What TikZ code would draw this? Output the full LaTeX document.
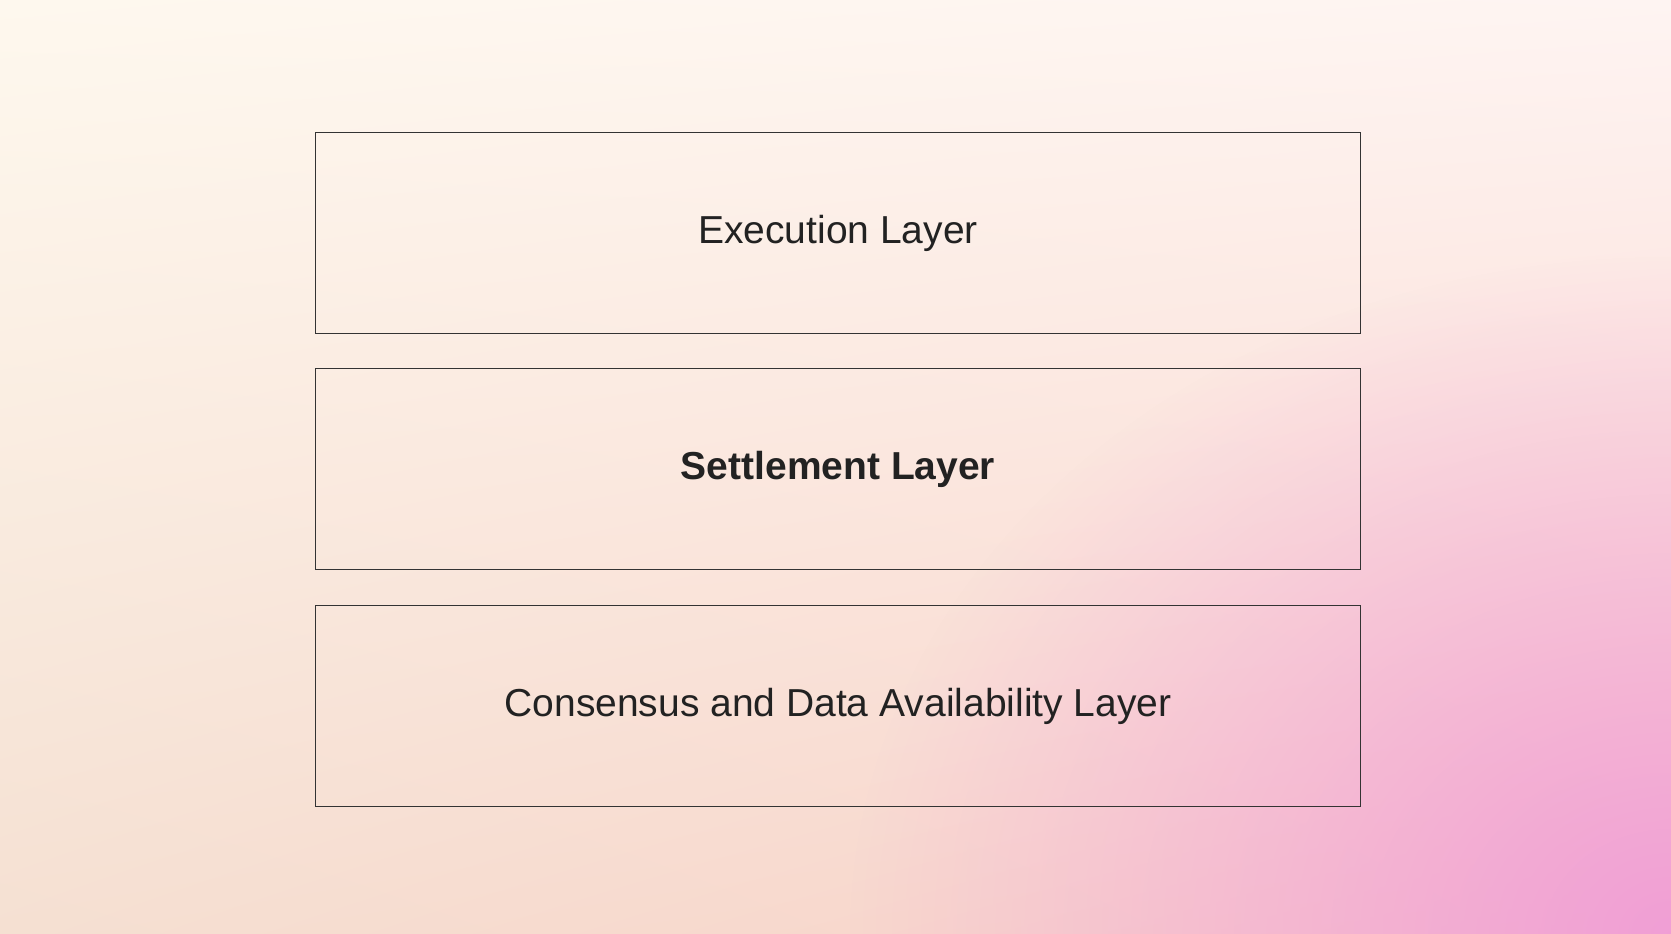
\documentclass[tikz,border=0pt]{standalone}
\usepackage{fontspec}
\setmainfont{Liberation Sans}
\usetikzlibrary{fadings,shadings}
\tikzfading[name=pinkfade, inner color=transparent!0, outer color=transparent!100]
\definecolor{ulc}{HTML}{FEF8EE}
\definecolor{urc}{HTML}{FEF4F2}
\definecolor{llc}{HTML}{F5E0D2}
\definecolor{lrc}{HTML}{FAD0C8}
\definecolor{pinkc}{HTML}{F09CD6}
\definecolor{edgec}{HTML}{333333}
\definecolor{textc}{HTML}{222222}
\tikzset{
  layerbox/.style={draw=edgec, line width=1.2pt, minimum width=1045pt, minimum height=201pt, inner sep=0pt, text=textc, font=\fontsize{39}{46}\selectfont},
}
\begin{document}
\begin{tikzpicture}[x=1pt,y=1pt]
\useasboundingbox (0,0) rectangle (1671,934);
\shade[upper left=ulc, upper right=urc, lower left=llc, lower right=lrc] (0,0) rectangle (1671,934);
\begin{scope}
\clip (0,0) rectangle (1671,934);
\fill[pinkc, fill opacity=0.95, path fading=pinkfade] (1671,0) ellipse [x radius=820pt, y radius=680pt];
\end{scope}
\node[layerbox] (exec) at (838,701) {Execution Layer};
\node[layerbox, font=\fontsize{39}{46}\selectfont\bfseries] (settle) at (838,465) {Settlement Layer};
\node[layerbox] (cons) at (838,228) {Consensus and Data Availability Layer};
\end{tikzpicture}
\end{document}
